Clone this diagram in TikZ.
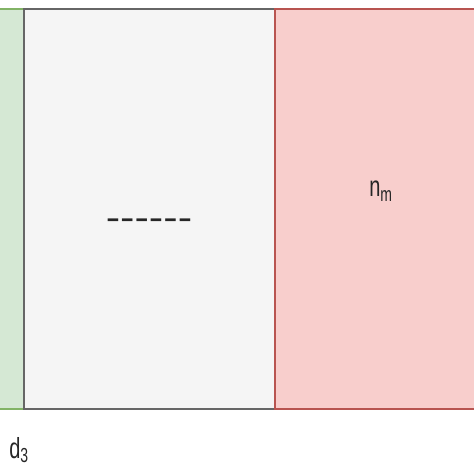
\documentclass[tikz,border=0pt]{standalone}
\usepackage{fontspec}
\setmainfont{Liberation Sans}
\definecolor{gfill}{HTML}{D5E8D4}
\definecolor{gline}{HTML}{82B366}
\definecolor{wfill}{HTML}{F5F5F5}
\definecolor{wline}{HTML}{666666}
\definecolor{rfill}{HTML}{F8CECC}
\definecolor{rline}{HTML}{B85450}
\newcommand{\hy}{\mbox{-}}
\tikzset{
  cell/.style={draw, line width=1.6pt, rectangle, inner sep=0pt, outer sep=0pt},
  greencell/.style={cell, fill=gfill, draw=gline},
  graycell/.style={cell, fill=wfill, draw=wline},
  redcell/.style={cell, fill=rfill, draw=rline},
  lbl/.style={inner sep=0pt, text=black!85, font=\fontsize{20}{20}\selectfont, yscale=1.45, transform shape},
}
\begin{document}
\begin{tikzpicture}[x=1pt,y=1pt]
\useasboundingbox (0,0) rectangle (474,474);
\clip (0,0) rectangle (474,474);
\fill[white] (0,0) rectangle (474,474);
\draw[greencell] (-20,65) rectangle (24,465);
\draw[graycell] (24,65) rectangle (275,465);
\draw[redcell] (275,65) rectangle (500,465);
\node[lbl] (dots) at (149,250) {\fontsize{24}{24}\selectfont\scalebox{1.8}[1]{\hy\hy\hy\hy\hy\hy}};
\node[lbl] (nm) at (381,283) {n\textsubscript{m}};
\node[lbl] (d3) at (19,24) {d\textsubscript{3}};
\end{tikzpicture}
\end{document}
